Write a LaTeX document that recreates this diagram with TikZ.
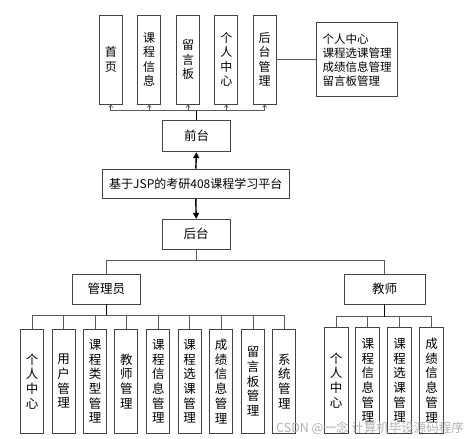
\documentclass[tikz,border=0pt]{standalone}
\usepackage{fontspec}
\newfontfamily\cjk{Noto Sans CJK SC}
\usetikzlibrary{arrows.meta}
\definecolor{boxline}{HTML}{444444}
\definecolor{conline}{HTML}{5A5A5A}
\tikzset{
  box/.style={draw=boxline, line width=0.9pt, inner sep=0pt, align=center, fill=white},
  vbox/.style={box, minimum width=23pt, font=\cjk\fontsize{12}{14.5}\selectfont},
  hbox/.style={box, font=\cjk\fontsize{12.5}{14}\selectfont},
  con/.style={draw=conline, line width=0.8pt},
  stem/.style={draw=black, line width=1.5pt},
  bigarrow/.style={draw=black, line width=1.4pt, -{Triangle[length=6pt,width=6pt]}},
  smallarrow/.style={draw=conline, line width=0.7pt, -{Straight Barb[length=2.5pt,width=4pt]}},
}
\begin{document}
\begin{tikzpicture}[x=1pt,y=-1pt]
\useasboundingbox[fill=white] (0,0) rectangle (474,439);

% top level boxes
\node[vbox, minimum height=89pt] (t1) at (110.8,59.5) {首\\页};
\node[vbox, minimum height=89pt] (t2) at (149.2,59.5) {课\\程\\信\\息};
\node[vbox, minimum height=89pt] (t3) at (188,59.5) {留\\言\\板};
\node[vbox, minimum height=89pt] (t4) at (226.3,59.5) {个\\人\\中\\心};
\node[vbox, minimum height=89pt] (t5) at (264.7,59.5) {后\\台\\管\\理};
\node[box, minimum width=81pt, minimum height=74pt, align=left, font=\cjk\fontsize{11.5}{14}\selectfont] (side) at (357.2,59.7) {个人中心\\课程选课管理\\成绩信息管理\\留言板管理};

\node[hbox, minimum width=68.4pt, minimum height=31pt] (qt) at (196.5,136.2) {前台};
\node[hbox, minimum width=187pt, minimum height=29.3pt, font=\cjk\fontsize{12}{14}\selectfont] (main) at (195.8,183.7) {基于JSP的考研408课程学习平台};
\node[hbox, minimum width=67.7pt, minimum height=29.7pt] (ht) at (196.2,234.2) {后台};
\node[hbox, minimum width=67.3pt, minimum height=30pt] (gly) at (106.3,289) {管理员};
\node[hbox, minimum width=80.7pt, minimum height=30pt] (js) at (384.7,289) {教师};

% admin boxes
\foreach \n/\x/\t in {b1/32/{个\\人\\中\\心}, b2/63.7/{用\\户\\管\\理}, b3/95/{课\\程\\类\\型\\管\\理},
  b4/126.3/{教\\师\\管\\理}, b5/158.3/{课\\程\\信\\息\\管\\理}, b6/189.7/{课\\程\\选\\课\\管\\理},
  b7/221/{成\\绩\\信\\息\\管\\理}, b8/253/{留\\言\\板\\管\\理}, b9/284.3/{系\\统\\管\\理}}
  \node[vbox, minimum height=104pt, font=\cjk\fontsize{12.5}{14.7}\selectfont] (\n) at (\x,381.3) {\t};

% teacher boxes
\foreach \n/\x/\t in {c1/336.2/{个\\人\\中\\心}, c2/367.8/{课\\程\\信\\息\\管\\理},
  c3/399.7/{课\\程\\选\\课\\管\\理}, c4/431.7/{成\\绩\\信\\息\\管\\理}}
  \node[vbox, minimum width=24pt, minimum height=106pt, font=\cjk\fontsize{12.5}{14.7}\selectfont] (\n) at (\x,380.3) {\t};

% top connectors
\coordinate (tbus) at (196,110.7);
\draw[con] (t1.south |- tbus) -- (t5.south |- tbus);
\foreach \n in {t1,t2,t3,t4,t5} \draw[smallarrow] (\n.south |- tbus) -- (\n.south);
\draw[stem] (qt.north) -- (qt.north |- tbus);
\draw[con] (t5.east) -- (t5.east -| side.west);

\draw[bigarrow] (main.north) -- (qt.south);
\draw[bigarrow] (main.south) -- (ht.north);

% back-end connectors
\coordinate (hbus) at (196,260);
\draw[con] (ht.south) -- (ht.south |- hbus);
\draw[con] (gly.north) -- (gly.north |- hbus) -- (js.north |- hbus) -- (js.north);

\coordinate (abus) at (106.5,315);
\draw[con] (b1.north) -- (b1.north |- abus) -- (b9.north |- abus) -- (b9.north);
\foreach \n in {b2,b3,b4,b5,b6,b7,b8} \draw[con] (\n.north |- abus) -- (\n.north);
\draw[stem] (gly.south) -- (gly.south |- abus);

\coordinate (jbus) at (384.7,316.7);
\draw[con] (c1.north) -- (c1.north |- jbus) -- (c4.north |- jbus) -- (c4.north);
\foreach \n in {c2,c3} \draw[con] (\n.north |- jbus) -- (\n.north);
\draw[stem] (js.south) -- (js.south |- jbus);

% watermark
\node[anchor=east, inner sep=0pt, text=gray!60, font=\cjk\fontsize{12.5}{14}\selectfont] (wm) at (464,428) {CSDN @一念 计算机毕设源码程序};
\end{tikzpicture}
\end{document}
